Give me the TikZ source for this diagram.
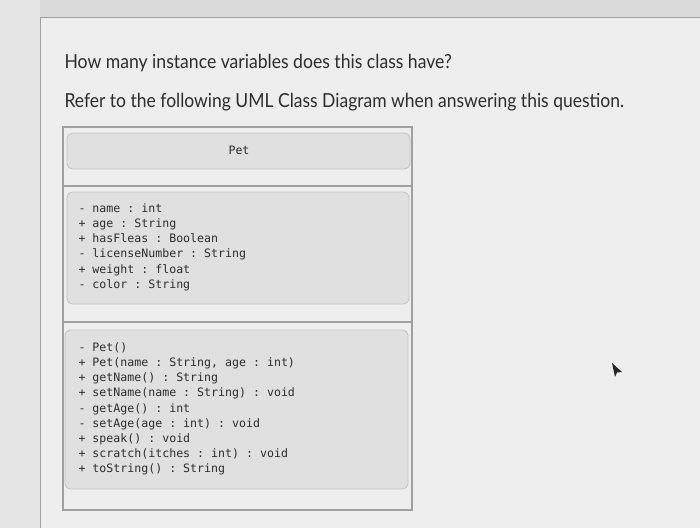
\documentclass[tikz,border=0pt]{standalone}
\usepackage{fontspec}
\usepackage{graphicx}
\setmainfont{Lato}
\setmonofont{DejaVu Sans Mono}
\definecolor{pagebg}{RGB}{228,228,228}
\definecolor{topbar}{RGB}{218,218,218}
\definecolor{panelbg}{RGB}{238,238,238}
\definecolor{compfill}{RGB}{224,224,224}
\definecolor{compline}{RGB}{196,196,196}
\definecolor{boxline}{RGB}{160,160,160}
\definecolor{inktext}{RGB}{45,45,45}
\tikzset{every picture/.style={line width=0.75pt}}
\tikzset{
  compartment/.style={draw=compline, fill=compfill, rounded corners=4pt, line width=0.6pt},
  umltext/.style={anchor=north west, inner sep=0pt, align=left, text=inktext,
    font=\ttfamily\fontsize{8.7}{11.4}\selectfont},
  question/.style={anchor=base west, inner sep=0pt, text=inktext,
    font=\fontsize{14.5}{16}\selectfont}
}

\begin{document}
\begin{tikzpicture}[x=0.75pt,y=0.75pt,yscale=-1]
%set diagram to the size of the photo
\useasboundingbox (0,0) rectangle (700,528);

%Shape: Background
\fill [pagebg] (0,0) rectangle (700,528);
\fill [topbar] (40,0) rectangle (700,17);
\fill [panelbg] (40,17) rectangle (700,528);
\draw [boxline, line width=0.6pt] (40,528) -- (40,17) -- (700,17);

% Text Node
\node [question] (askCount) at (64,69) {\scalebox{0.91}[1]{How many instance variables does this class have?}};
% Text Node
\node [question] (referUml) at (64,108) {\scalebox{0.905}[1]{Refer to the following UML Class Diagram when answering this question.}};

%Shape: Rectangle [class box]
\draw [boxline, line width=0.8pt] (63,127) rectangle (412,510);
%Straight Lines [dividers]
\draw [boxline, line width=0.8pt] (63,186) -- (412,186);
\draw [boxline, line width=0.8pt] (63,322) -- (412,322);

%Shape: Rounded rectangles [compartments]
\draw [compartment] (67,133) rectangle (410,169);
\draw [compartment] (67,192) rectangle (409,304);
\draw [compartment] (65,330) rectangle (408,489);

% Text Node
\node [umltext, anchor=center] (className) at (239,150) {Pet};
% Text Node
\node [umltext] (attrList) at (78,203) {- name : int\\
+ age : String\\
+ hasFleas : Boolean\\
- licenseNumber : String\\
+ weight : float\\
- color : String};
% Text Node
\node [umltext] (methodList) at (78,342) {- Pet()\\
+ Pet(name : String, age : int)\\
+ getName() : String\\
+ setName(name : String) : void\\
- getAge() : int\\
- setAge(age : int) : void\\
+ speak() : void\\
+ scratch(itches : int) : void\\
+ toString() : String};

%Shape: mouse pointer
\fill [black!85] (612,363) -- (622,372) -- (617,372.5) -- (615,377) -- cycle;

\end{tikzpicture}
\end{document}
